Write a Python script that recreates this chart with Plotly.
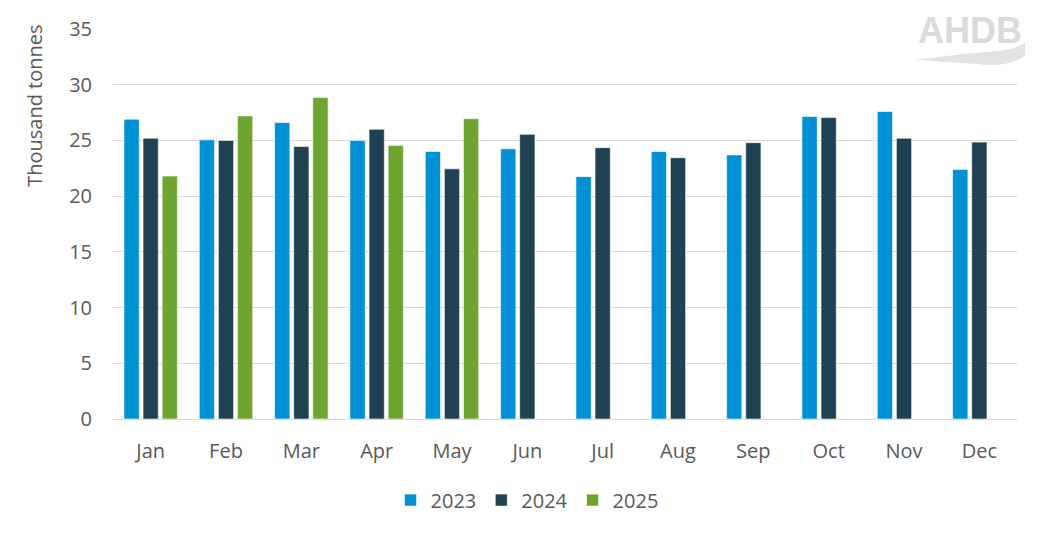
import plotly.graph_objects as go

months = ["Jan", "Feb", "Mar", "Apr", "May", "Jun", "Jul", "Aug", "Sep", "Oct", "Nov", "Dec"]
y2023 = [26.9, 25.05, 26.6, 25.0, 24.0, 24.25, 21.75, 24.0, 23.7, 27.15, 27.6, 22.4]
y2024 = [25.2, 25.0, 24.45, 26.0, 22.45, 25.55, 24.35, 23.45, 24.8, 27.05, 25.2, 24.85]
y2025 = [21.8, 27.2, 28.85, 24.55, 26.95, None, None, None, None, None, None, None]

series = [("2023", y2023, "#0090D5"), ("2024", y2024, "#1F4252"), ("2025", y2025, "#6EA530")]

font_family = "Open Sans, Liberation Sans, sans-serif"
text_col = "#595959"

fig = go.Figure()
for name, vals, col in series:
    fig.add_trace(go.Bar(
        x=months, y=vals, name=name,
        marker=dict(color=col, line=dict(color="rgba(255,255,255,0.6)", width=1)),
    ))

fig.update_layout(
    width=1046, height=540,
    margin=dict(l=113, r=29, t=29, b=121),
    paper_bgcolor="white", plot_bgcolor="white",
    barmode="group", bargap=0.24, bargroupgap=0.2,
    font=dict(family=font_family, color=text_col, size=20),
    showlegend=True,
    legend=dict(orientation="h", x=0.458, xanchor="center", y=-0.208, yanchor="middle",
                font=dict(size=20, color=text_col), itemwidth=30, traceorder="normal"),
    xaxis=dict(showgrid=False, showline=False, ticks="", ticklabelstandoff=18,
               tickfont=dict(size=20, color=text_col)),
    yaxis=dict(range=[0, 35], dtick=5, showgrid=True, gridcolor="#D9D9D9", gridwidth=1,
               zeroline=True, zerolinecolor="#D9D9D9", zerolinewidth=1,
               ticks="", ticklabelstandoff=20, tickfont=dict(size=20, color=text_col)),
)

# y-axis title, placed near the top as in the reference
fig.add_annotation(xref="paper", yref="paper", x=-0.0863, y=0.803, xanchor="center", yanchor="middle",
                   text="Thousand tonnes", textangle=-90, showarrow=False,
                   font=dict(size=20, color=text_col))

# AHDB logo (watermark)
fig.add_annotation(xref="paper", yref="paper", x=1.008, y=0.997, xanchor="right", yanchor="middle",
                   text="<b>AHDB</b>", showarrow=False,
                   font=dict(family="Liberation Sans, Arial, sans-serif", size=36, color="#DADADA"))
fig.add_shape(type="path", xref="paper", yref="paper",
              path="M 0.887 0.921 Q 0.94 0.937 0.985 0.945 Q 1.0 0.95 1.009 0.966 L 1.009 0.932 Q 0.99 0.9 0.955 0.91 Q 0.92 0.915 0.887 0.921 Z",
              fillcolor="#E3E3E3", line=dict(width=0))

fig.write_html("out.html")
